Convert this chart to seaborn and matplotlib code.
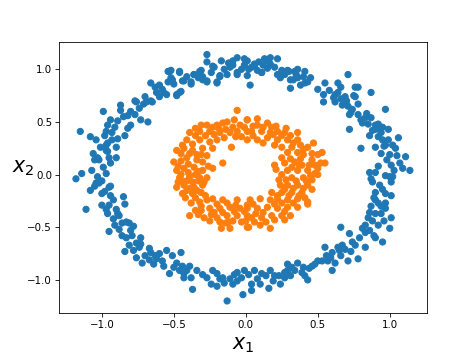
import matplotlib
matplotlib.use("Agg")
import matplotlib.pyplot as plt
import pandas as pd
import seaborn as sns

# outer ring (class 0)
outer_pts = [
    (-0.54, 0.98), (-0.54, 0.88), (-0.66, 0.87), (-0.63, 0.83), (-0.57, 0.78),
    (-0.71, 0.67), (-0.66, 0.70), (-0.77, 0.70), (-0.87, 0.66), (-0.87, 0.61),
    (-0.99, 0.60), (-0.82, 0.56), (-0.77, 0.57), (-0.73, 0.52), (-0.68, 0.50),
    (-0.94, 0.52), (-0.96, 0.47), (-0.89, 0.51), (-0.80, 0.47), (-0.82, 0.44),
    (-0.97, 0.41), (-1.15, 0.41), (-1.08, 0.36), (-0.98, 0.37), (-0.89, 0.34),
    (-0.84, 0.37), (-0.97, 0.28), (-0.96, 0.22), (-1.06, 0.20), (-0.90, 0.16),
    (-1.03, 0.16), (-1.02, 0.14), (-0.95, 0.16), (-0.97, 0.23), (-0.96, 0.30),
    (-1.04, 0.33), (-0.90, 0.26), (-0.94, 0.11), (-1.05, 0.14),
    (-0.62, 0.78), (-0.70, 0.74), (-0.74, 0.63), (-0.80, 0.60), (-0.85, 0.55),
    (-0.91, 0.45), (-0.93, 0.40), (-1.01, 0.26), (-0.93, 0.33), (-0.60, 0.85),
    (-0.50, 0.86), (-0.41, 0.93), (-0.33, 0.92),
    (-0.53, 0.98), (-0.46, 0.98), (-0.52, 0.92), (-0.44, 0.89), (-0.38, 0.88),
    (-0.36, 0.95), (-0.32, 0.98), (-0.27, 1.14), (-0.27, 1.07), (-0.23, 1.03),
    (-0.17, 1.08), (-0.11, 1.02), (-0.27, 0.89), (-0.20, 0.88), (-0.18, 0.93),
    (-0.30, 0.93), (-0.09, 1.08), (-0.06, 0.97), (-0.48, 0.76), (-0.45, 0.79),
    (-0.58, 0.81), (-0.60, 0.74), (-0.65, 0.69), (-0.69, 0.69), (-0.76, 0.69),
    (-0.06, 1.11), (-0.01, 1.10), (0.13, 1.10), (0.17, 1.11), (0.22, 1.10),
    (-0.22, 1.02), (-0.09, 1.04), (-0.01, 1.04), (0.04, 1.02), (0.06, 1.05),
    (0.12, 1.04), (0.20, 1.02), (0.25, 0.99), (0.29, 0.99), (0.36, 1.00),
    (-0.52, 0.99), (-0.46, 0.97), (-0.36, 0.95), (-0.31, 0.99), (-0.18, 0.94),
    (-0.13, 0.95), (-0.06, 0.95), (0.01, 0.94), (0.11, 0.97), (0.22, 0.95),
    (0.24, 0.92), (-0.51, 0.90), (-0.43, 0.89), (-0.38, 0.86), (-0.30, 0.90),
    (-0.27, 0.88), (-0.20, 0.87), (0.03, 0.85), (0.31, 0.90), (0.33, 0.90),
    (0.31, 0.82), (-0.46, 0.78), (-0.48, 0.75), (-0.55, 0.76),
    (-0.24, 0.97), (-0.15, 1.00), (-0.03, 1.00), (0.08, 0.99), (0.15, 1.01),
    (0.27, 0.95), (0.35, 0.95), (-0.12, 1.06), (0.09, 1.07),
    (0.01, 1.08), (0.15, 1.08), (0.17, 1.05), (0.02, 1.00), (0.06, 1.03),
    (0.11, 0.97), (0.23, 0.95), (0.30, 0.98), (0.34, 0.98), (0.41, 0.98),
    (0.36, 0.92), (0.41, 0.87), (0.40, 0.93), (0.43, 0.88), (0.38, 0.85),
    (0.55, 0.87), (0.50, 0.81), (0.54, 0.76), (0.54, 0.69), (0.64, 0.87),
    (0.71, 0.95), (0.66, 0.83), (0.62, 0.76), (0.62, 0.69), (0.69, 0.74),
    (0.76, 0.83), (0.76, 0.74), (0.71, 0.65), (0.72, 0.57), (0.87, 0.78),
    (0.64, 0.78), (0.61, 0.73), (0.78, 0.83), (0.75, 0.75), (0.67, 0.66),
    (0.78, 0.67), (0.73, 0.59), (0.81, 0.49), (0.92, 0.48), (0.88, 0.42),
    (0.45, 0.92), (0.58, 0.80), (0.66, 0.72), (0.70, 0.70), (0.74, 0.62),
    (0.84, 0.58), (0.85, 0.48), (0.95, 0.45), (0.86, 0.37), (0.95, 0.33),
    (1.02, 0.28), (0.98, 0.14), (1.05, 0.18), (0.92, 0.08), (1.09, 0.06),
    (0.78, 0.57), (0.80, 0.52), (0.83, 0.54), (0.87, 0.54), (0.97, 0.62),
    (0.90, 0.47), (0.72, 0.43), (0.90, 0.43), (0.93, 0.43), (0.99, 0.43),
    (1.06, 0.35), (0.92, 0.36), (0.97, 0.28), (0.90, 0.26), (0.80, 0.25),
    (1.04, 0.25), (1.11, 0.17), (1.00, 0.19), (0.94, 0.20), (1.01, 0.09),
    (0.99, 0.33), (0.96, 0.27), (0.94, 0.40),
    (1.07, 0.11), (1.14, 0.04), (1.03, 0.04), (0.97, -0.01), (0.86, 0.02),
    (0.87, -0.04), (1.00, -0.02), (1.01, -0.07), (0.90, 0.02), (1.02, -0.02),
    (0.88, -0.07), (0.90, -0.17), (0.97, -0.18), (1.01, -0.20), (0.90, -0.24),
    (0.92, -0.27), (0.97, -0.27), (0.89, -0.22), (0.97, -0.32), (0.86, -0.36),
    (0.90, -0.37), (0.94, -0.37), (1.01, -0.41), (0.85, -0.41), (0.83, -0.48),
    (0.81, -0.51), (0.92, -0.48), (1.00, -0.51), (0.90, -0.60), (0.95, -0.64),
    (0.83, -0.55), (0.89, -0.58), (0.66, -0.50), (0.72, -0.56), (0.76, -0.67),
    (0.93, -0.10), (0.95, -0.14), (0.87, -0.30), (0.94, -0.30), (0.88, -0.44),
    (0.96, -0.44), (0.86, -0.53), (0.79, -0.60), (0.74, -0.64), (0.73, -0.73),
    (0.65, -0.72), (0.56, -0.77), (0.48, -0.85), (0.40, -0.88), (0.32, -0.88),
    (0.31, -0.96), (0.14, -0.96), (0.08, -0.99), (0.02, -0.95), (0.19, -1.01),
    (0.83, -0.69), (0.55, -0.69), (0.67, -0.67), (0.64, -0.69), (0.69, -0.71),
    (0.60, -0.74), (0.78, -0.80), (0.71, -0.82), (0.66, -0.77), (0.50, -0.82),
    (0.53, -0.82), (0.59, -0.79), (0.62, -0.84), (0.60, -0.91), (0.57, -0.82),
    (0.46, -0.87), (0.44, -0.89), (0.36, -0.84), (0.29, -0.85), (0.39, -0.93),
    (0.43, -1.00), (0.41, -0.96), (0.34, -0.91), (0.27, -0.93), (0.27, -0.98),
    (0.23, -0.96), (0.24, -1.04), (0.20, -0.96), (0.17, -0.91), (0.11, -0.94),
    (0.06, -0.91), (-0.01, -0.91), (-0.03, -0.98), (0.04, -1.04), (0.10, -1.04),
    (0.16, -1.08), (0.04, -1.10), (-0.02, -1.14), (-0.06, -1.01), (0.29, -0.91),
    (-1.18, -0.04), (-1.14, 0.01), (-1.03, -0.02), (-0.97, 0.01), (-1.02, -0.08),
    (-0.95, -0.12), (-1.08, -0.15), (-1.00, -0.18), (-0.85, -0.21), (-0.92, -0.24),
    (-1.00, -0.29), (-0.95, -0.29), (-0.84, -0.28), (-1.11, -0.33), (-0.96, -0.37),
    (-0.92, -0.42), (-0.88, -0.39), (-0.86, -0.46), (-0.81, -0.46), (-0.78, -0.49),
    (-0.95, -0.54), (-0.86, -0.58), (-0.79, -0.58), (-0.73, -0.60), (-0.76, -0.65),
    (-0.74, -0.69), (-0.84, -0.73), (-0.78, -0.72), (-0.76, -0.79), (-0.72, -0.84),
    (-1.00, -0.06), (-0.94, -0.11), (-1.04, -0.08), (-0.98, -0.16), (-0.90, -0.33),
    (-0.89, -0.37), (-0.83, -0.45), (-0.80, -0.53), (-0.83, -0.60), (-0.73, -0.66),
    (-0.67, -0.70), (-0.67, -0.81),
    (-0.30, -0.95), (-0.27, -0.98), (-0.41, -0.91), (-0.50, -0.88), (-0.57, -0.87),
    (-0.63, -0.77), (-0.70, -0.77), (-0.81, -0.67), (-0.88, -0.52), (-0.91, -0.48),
    (-0.97, -0.33), (-0.94, -0.20), (-1.05, -0.11), (-0.99, 0.07), (-1.07, 0.04),
    (-0.66, -0.74), (-0.60, -0.75), (-0.62, -0.80), (-0.58, -0.82), (-0.55, -0.72),
    (-0.64, -0.85), (-0.51, -0.77), (-0.45, -0.74), (-0.48, -0.84), (-0.44, -0.87),
    (-0.46, -0.91), (-0.39, -0.87), (-0.43, -0.94), (-0.38, -0.98), (-0.34, -0.91),
    (-0.53, -0.94), (-0.37, -1.09), (-0.23, -0.91), (-0.20, -0.94), (-0.16, -0.98),
    (-0.11, -0.99), (-0.24, -1.04), (-0.20, -1.06), (-0.09, -1.04), (-0.13, -1.20),
    (-0.06, -0.93), (-0.43, -0.98), (-0.18, -0.99), (-0.15, -1.03), (-0.08, -0.95),
]

# inner ring (class 1)
inner_pts = [
    (-0.06, 0.61), (0.01, 0.52), (-0.31, 0.47), (-0.23, 0.45), (-0.16, 0.49),
    (-0.13, 0.50), (-0.04, 0.47), (-0.39, 0.40), (-0.32, 0.41), (-0.25, 0.41),
    (-0.18, 0.40), (-0.11, 0.40), (-0.06, 0.41), (0.01, 0.41), (-0.41, 0.33),
    (-0.32, 0.33), (-0.25, 0.31), (-0.20, 0.33), (-0.15, 0.35), (-0.10, 0.26),
    (-0.03, 0.36), (-0.48, 0.23), (-0.43, 0.25), (-0.37, 0.23), (-0.30, 0.25),
    (-0.23, 0.25), (-0.34, 0.19), (-0.41, 0.16), (-0.30, 0.12), (-0.16, 0.11),
    (-0.23, 0.06), (-0.50, 0.12), (-0.48, 0.04), (-0.43, 0.06), (-0.36, 0.07),
    (-0.30, 0.04), (-0.46, -0.03), (-0.39, -0.02), (-0.32, -0.03), (-0.27, -0.03),
    (-0.48, -0.12), (-0.43, -0.10), (-0.36, -0.12), (-0.30, -0.10), (-0.44, -0.18),
    (-0.37, -0.18), (-0.31, -0.17), (-0.38, -0.27), (-0.32, -0.26), (-0.27, -0.24),
    (-0.23, -0.23), (-0.16, -0.24), (-0.06, -0.24), (-0.39, -0.39), (-0.31, -0.34),
    (-0.25, -0.32), (-0.18, -0.32), (-0.11, -0.31), (-0.04, -0.32), (0.01, -0.29),
    (-0.29, -0.41), (-0.20, -0.41), (-0.13, -0.39), (-0.06, -0.39), (0.01, -0.39),
    (-0.17, -0.51), (-0.11, -0.51), (-0.18, -0.45), (-0.25, -0.44),
    (-0.27, 0.47), (-0.20, 0.47), (-0.09, 0.45), (-0.35, 0.37), (-0.28, 0.37),
    (-0.22, 0.38), (-0.14, 0.43), (-0.07, 0.36), (0.05, 0.46), (0.12, 0.45),
    (0.19, 0.38), (0.25, 0.37), (0.31, 0.37), (0.05, 0.37), (0.12, 0.30),
    (0.20, 0.28),
    (-0.45, 0.20), (-0.40, 0.10), (-0.45, 0.00), (-0.41, -0.06), (-0.35, 0.00),
    (-0.39, -0.13), (-0.33, -0.06), (-0.34, 0.14), (-0.27, 0.18), (-0.42, -0.22),
    (-0.35, -0.22), (-0.28, -0.20), (-0.44, 0.28), (-0.37, 0.29), (-0.26, 0.08),
    (-0.31, -0.30), (-0.35, -0.34),
    (-0.47, 0.08), (-0.44, -0.06), (-0.40, 0.02), (-0.37, -0.07), (-0.33, 0.03),
    (-0.29, -0.07), (-0.47, -0.07), (-0.41, -0.15), (-0.34, -0.15), (-0.39, 0.20),
    (-0.31, 0.19), (-0.45, 0.13),
    (-0.35, 0.44), (-0.19, 0.44), (-0.08, 0.52), (0.08, 0.53), (0.21, 0.46),
    (0.28, 0.44), (0.17, 0.40), (-0.01, 0.45),
    (-0.20, -0.28), (-0.13, -0.27), (-0.08, -0.35), (-0.01, -0.35), (0.05, -0.28),
    (0.12, -0.36), (0.20, -0.28), (0.27, -0.35), (0.06, -0.45), (0.14, -0.45),
    (-0.09, -0.44), (-0.14, -0.46), (-0.22, -0.36), (-0.03, -0.45),
    (-0.33, -0.38), (-0.24, -0.38), (-0.16, -0.36), (-0.07, -0.29), (0.07, -0.37),
    (0.20, -0.43), (0.27, -0.43), (-0.12, -0.45), (0.00, -0.44),
    (0.01, 0.52), (0.08, 0.47), (0.15, 0.49), (0.18, 0.45), (0.04, 0.41),
    (0.11, 0.41), (0.22, 0.41), (0.27, 0.40), (0.36, 0.40), (0.01, 0.33),
    (0.08, 0.33), (0.15, 0.35), (0.22, 0.33), (0.29, 0.33), (0.36, 0.33),
    (0.47, 0.30), (0.25, 0.26), (0.32, 0.26), (0.38, 0.28), (0.43, 0.26),
    (0.29, 0.21), (0.36, 0.21), (0.40, 0.19), (0.53, 0.21), (0.25, 0.16),
    (0.20, 0.09), (0.27, 0.11), (0.34, 0.12), (0.46, 0.14), (0.52, 0.11),
    (0.55, 0.11), (0.29, 0.04), (0.36, 0.04), (0.43, 0.04), (0.48, 0.01),
    (0.25, 0.00), (0.32, -0.03), (0.40, -0.03), (0.46, -0.05), (0.50, 0.00),
    (0.24, -0.10), (0.29, -0.10), (0.36, -0.10), (0.43, -0.10), (0.18, -0.17),
    (0.25, -0.17), (0.32, -0.17), (0.39, -0.17), (0.03, -0.24), (0.10, -0.23),
    (0.17, -0.24), (0.22, -0.23), (0.29, -0.24), (0.36, -0.23), (0.43, -0.26),
    (0.43, -0.28), (0.01, -0.32), (0.08, -0.32), (0.15, -0.31), (0.22, -0.32),
    (0.29, -0.31), (0.36, -0.31), (0.04, -0.41), (0.11, -0.41), (0.18, -0.39),
    (0.25, -0.39), (0.31, -0.39), (0.01, -0.50), (0.10, -0.48), (0.17, -0.51),
    (0.02, -0.50),
    (0.33, 0.30), (0.40, 0.24), (0.46, 0.20), (0.31, 0.15), (0.38, 0.15),
    (0.44, 0.09), (0.50, 0.06), (0.32, 0.07), (0.39, 0.09), (0.28, -0.05),
    (0.35, -0.06), (0.42, -0.06), (0.46, -0.14), (0.40, -0.13), (0.33, -0.13),
    (0.27, -0.14), (0.22, -0.20), (0.30, -0.20), (0.37, -0.20), (0.41, -0.22),
    (0.33, -0.27), (0.25, -0.27), (0.21, 0.05), (0.23, -0.05),
    (0.50, 0.19), (0.48, 0.09), (0.45, -0.01), (0.37, 0.09),
]

ring_colors = {"outer": "#1f77b4", "inner": "#ff7f0e"}

df = pd.DataFrame(outer_pts + inner_pts, columns=["x1", "x2"])
df["ring"] = ["outer"] * len(outer_pts) + ["inner"] * len(inner_pts)

fig, ax = plt.subplots(figsize=(474 / 74, 352 / 74), dpi=74)
sns.scatterplot(
    data=df,
    x="x1",
    y="x2",
    hue="ring",
    palette=ring_colors,
    s=36,
    edgecolor="face",
    linewidth=1,
    legend=False,
    ax=ax,
)
ax.set_xlabel("$x_1$", fontsize=20)
ax.set_ylabel("$x_2$", fontsize=20, rotation=0)

fig.savefig("out.png", dpi=74)
